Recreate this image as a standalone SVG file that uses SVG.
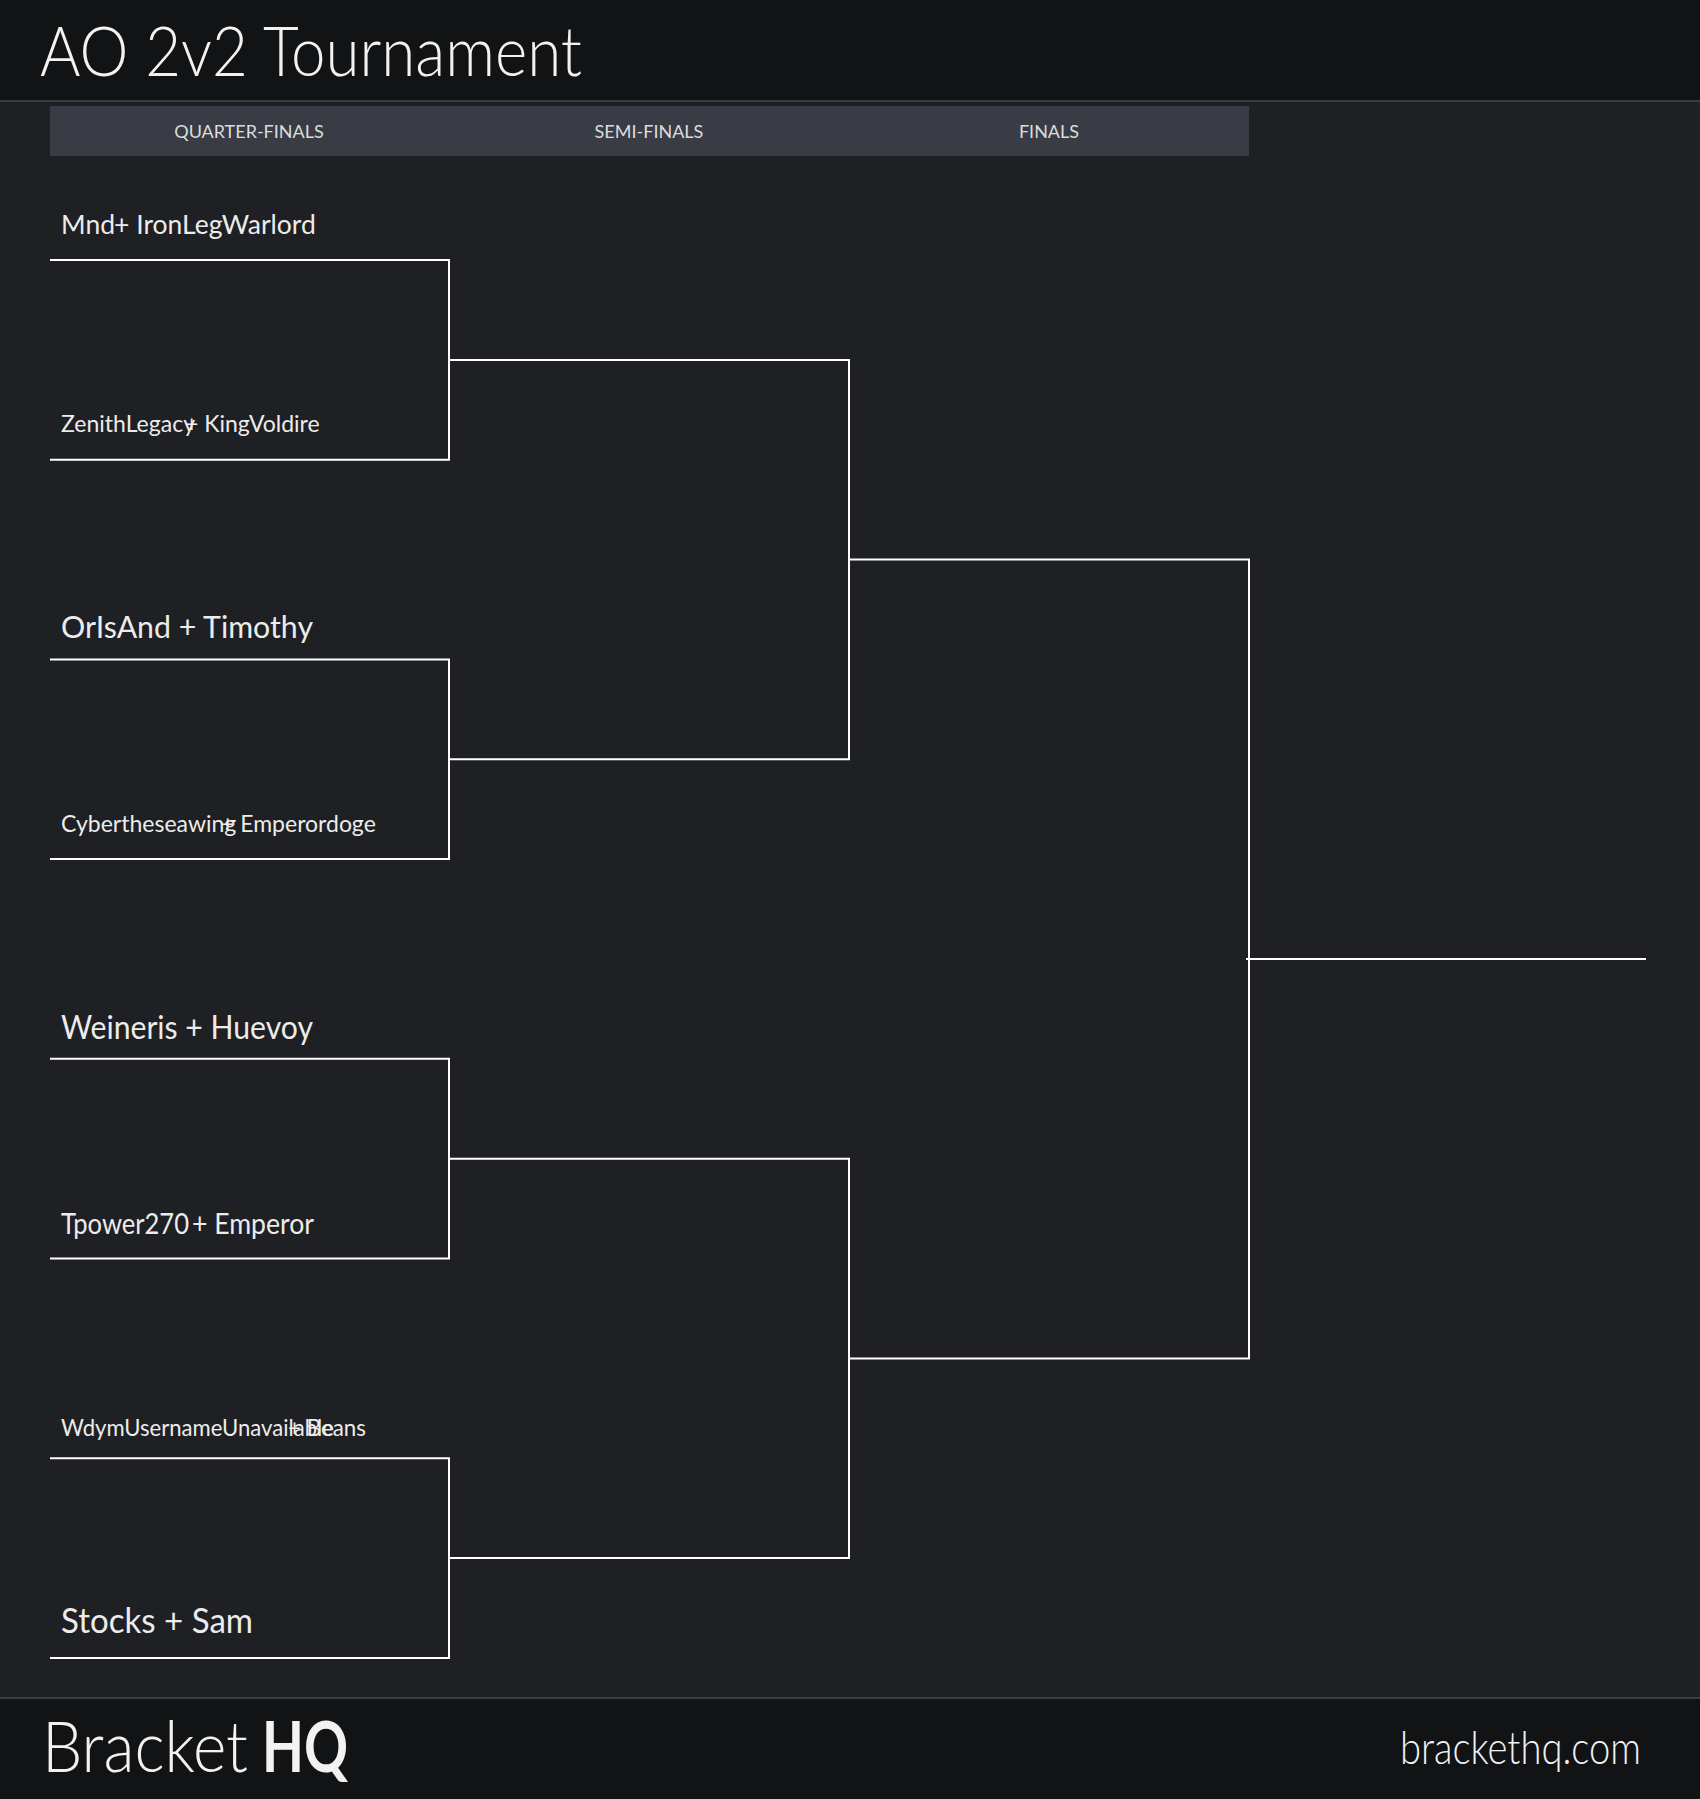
<svg xmlns="http://www.w3.org/2000/svg" width="1700" height="1799" viewBox="0 0 1700 1799">
<style>
  .bg{fill:#1f2023}
  .band{fill:#111315}
  .sep{stroke:#3b3d42;stroke-width:2}
  .title{font-family:Lato,"Source Sans Pro","Liberation Sans",sans-serif;font-weight:300;fill:#f2f2f2}
  .bold{font-weight:700}
  .round{font-family:Lato,"Liberation Sans",sans-serif;font-size:18px;fill:#dcdcdc;text-anchor:middle}
  .team{font-family:Lato,"Liberation Sans",sans-serif;font-weight:400;fill:#ececec}
  .conn{fill:none;stroke:#ffffff;stroke-width:2}
</style>
<rect class="bg" x="0" y="0" width="1700" height="1799"/>
<g id="header">
  <rect class="band" x="0" y="0" width="1700" height="100"/>
  <line class="sep" x1="0" y1="101" x2="1700" y2="101"/>
  <text class="title" x="40" y="76" font-size="68" textLength="542" lengthAdjust="spacingAndGlyphs">AO 2v2 Tournament</text>
</g>
<g id="rounds">
  <rect x="50" y="106" width="1199" height="50" fill="#393c44"/>
  <text class="round" x="249" y="137.5">QUARTER-FINALS</text>
  <text class="round" x="649" y="137.5">SEMI-FINALS</text>
  <text class="round" x="1049" y="137.5">FINALS</text>
</g>
<g id="connectors">
  <path class="conn" d="M50 260 H449 V459.7 H50"/>
  <path class="conn" d="M50 659.4 H449 V859.1 H50"/>
  <path class="conn" d="M50 1058.8 H449 V1258.5 H50"/>
  <path class="conn" d="M50 1458.2 H449 V1657.9 H50"/>
  <path class="conn" d="M449 359.9 H849 V759.3 H449"/>
  <path class="conn" d="M449 1158.7 H849 V1558.1 H449"/>
  <path class="conn" d="M849 559.6 H1249 V1358.4 H849"/>
  <path class="conn" d="M1246 959 H1646"/>
</g>
<g id="team1"><text class="team" x="61" y="234" font-size="26.5"><tspan x="61">Mnd</tspan><tspan x="114">+ IronLegWarlord</tspan></text></g>
<g id="team2"><text class="team" x="61" y="432" font-size="23"><tspan x="61">ZenithLegacy</tspan><tspan x="185">+ KingVoldire</tspan></text></g>
<g id="team3"><text class="team" x="61" y="638" font-size="31" textLength="252" lengthAdjust="spacingAndGlyphs">OrIsAnd + Timothy</text></g>
<g id="team4"><text class="team" x="61" y="832" font-size="23"><tspan x="61">Cybertheseawing</tspan><tspan x="221">+ Emperordoge</tspan></text></g>
<g id="team5"><text class="team" x="61" y="1039" font-size="32" textLength="252" lengthAdjust="spacingAndGlyphs">Weineris + Huevoy</text></g>
<g id="team6"><text class="team" x="61" y="1234" font-size="29"><tspan x="61" textLength="128" lengthAdjust="spacingAndGlyphs">Tpower270</tspan><tspan x="192" textLength="122" lengthAdjust="spacingAndGlyphs">+ Emperor</tspan></text></g>
<g id="team7"><text class="team" x="61" y="1436" font-size="23"><tspan x="61" textLength="273" lengthAdjust="spacingAndGlyphs">WdymUsernameUnavailable</tspan><tspan x="288" textLength="78" lengthAdjust="spacingAndGlyphs">+ Beans</tspan></text></g>
<g id="team8"><text class="team" x="61" y="1633" font-size="34" textLength="192" lengthAdjust="spacingAndGlyphs">Stocks + Sam</text></g>
<g id="footer">
  <rect class="band" x="0" y="1698" width="1700" height="101"/>
  <line class="sep" x1="0" y1="1698" x2="1700" y2="1698"/>
  <text class="title" x="42" y="1772" font-size="70" textLength="206" lengthAdjust="spacingAndGlyphs">Bracket</text>
  <text class="title bold" x="262" y="1772" font-size="70" textLength="86" lengthAdjust="spacingAndGlyphs">HQ</text>
  <text class="title" x="1400" y="1764" font-size="46" textLength="241" lengthAdjust="spacingAndGlyphs">brackethq.com</text>
</g>
</svg>
